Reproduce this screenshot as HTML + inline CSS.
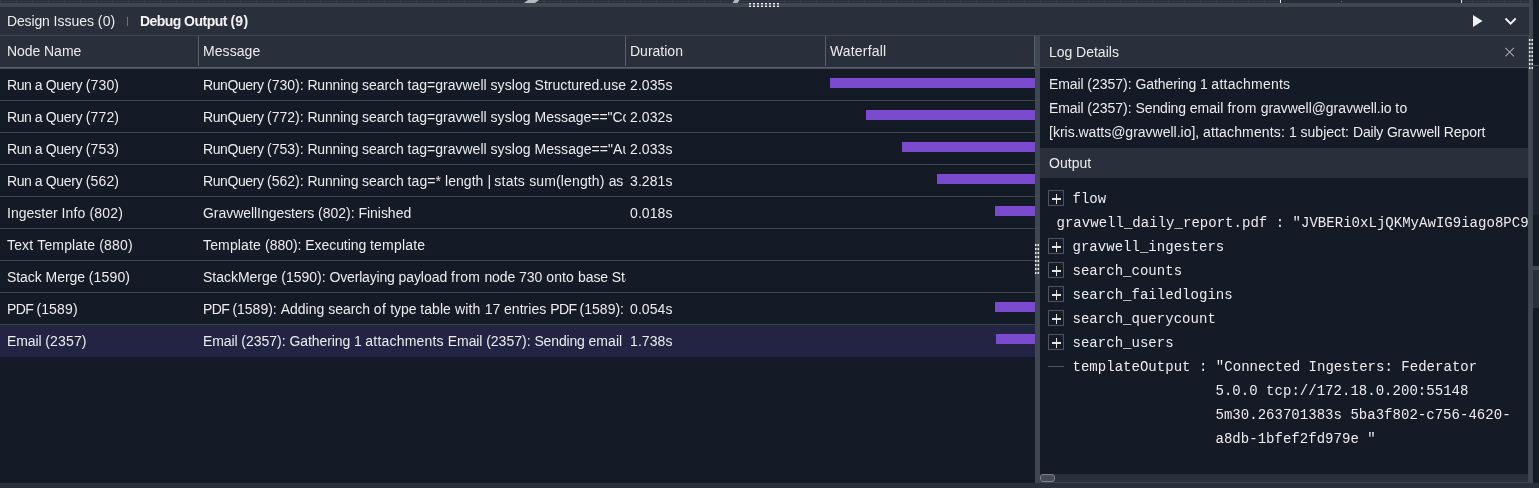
<!DOCTYPE html>
<html lang="en">
<head>
<meta charset="utf-8">
<title>Debug Output</title>
<style>
*{box-sizing:border-box;margin:0;padding:0}
html,body{width:1539px;height:488px;overflow:hidden;background:#141a26}
body{position:relative;font-family:"Liberation Sans",sans-serif;font-size:14px;color:#ececee;line-height:16px}
.abs,.t,.row{position:absolute}
.t{height:16px;white-space:pre}
.b{font-weight:bold}
.m{font-family:"Liberation Mono",monospace;font-size:14px}
#grid{left:0;top:0;width:1529px;height:3px;background-color:#2a313c;
  background-image:linear-gradient(90deg,#373e4a 0,#373e4a 1px,transparent 1px),linear-gradient(180deg,transparent 0,transparent 1px,#343b46 1px,#343b46 2px,transparent 2px);
  background-size:16px 3px,16px 3px}
#topbar{left:0;top:3px;width:1533px;height:4px;background:#3f4751}
#hhandle{left:748px;top:3px;width:32px;height:4px}
#hhandle i{position:absolute;top:0;width:2px;height:4px;background:linear-gradient(180deg,#ececec 0,#ececec 1px,#8d9198 1px,#8d9198 3px,#ececec 3px)}
#tabbar{left:0;top:7px;width:1529px;height:28px;background:#29303b}
#tabs-border{left:0;top:35px;width:1529px;height:1px;background:#3f4751}
#thead{left:0;top:36px;width:1035px;height:31px;background:#29303b}
#thead-border{left:0;top:67px;width:1035px;height:2px;background:linear-gradient(180deg,#59616b 0,#59616b 1px,#454d58 1px)}
.colsep{top:36px;width:1px;height:30px;background:#566069}
.row{left:0;width:1035px;height:32px;border-bottom:1px solid #3b434e}
.row.sel{background:#232443;border-bottom-color:#232443}
.bar{position:absolute;top:9px;height:10px;background:#7b4bcf;right:0}
#vsplit{left:1035px;top:36px;width:5px;height:447px;background:#3f4751}
.vh i{position:absolute;left:0;width:4px;height:2px;background:linear-gradient(90deg,#ececec 0,#ececec 1px,#8d9198 1px,#8d9198 3px,#ececec 3px)}
#rstrip{left:1529px;top:0;width:4px;height:483px;background:#3f4751}
#bottom{left:0;top:483px;width:1539px;height:5px;background:#29303b}
#rp-head{left:1040px;top:36px;width:489px;height:31px;background:#29303b}
#rp-head-border{left:1040px;top:67px;width:489px;height:1px;background:#3f4751}
#out-head{left:1040px;top:148px;width:489px;height:30px;background:#29303b}
.tg{width:16px;height:16px;border:1px solid #4c545e;left:1048px}
.tg:before{content:"";position:absolute;left:2.8px;top:7.45px;width:9.5px;height:1.3px;background:#e6e6e6}
.tg:after{content:"";position:absolute;left:6.9px;top:3.1px;width:1.3px;height:10px;background:#e6e6e6}
#sb-track{left:1040px;top:474px;width:489px;height:8px;background:#29303b}
#sb-line{left:1040px;top:482px;width:489px;height:1px;background:#3f4751}
#sb-thumb{left:1040px;top:474px;width:15px;height:8px;background:#454b57;border:1px solid #7d828b;border-radius:3px}
</style>
</head>
<body>
<div class="abs" id="grid"></div>
<div class="abs" id="topbar"></div>
<div class="abs" id="hhandle"><i style="left:1px"></i><i style="left:5px"></i><i style="left:9px"></i><i style="left:13px"></i><i style="left:17px"></i><i style="left:21px"></i><i style="left:25px"></i><i style="left:29px"></i></div>
<svg class="abs" style="left:520px;top:0" width="230" height="3" viewBox="0 0 230 3"><polygon points="8,0 19,0 15,3 4,3" fill="#b6babf"/><polygon points="214.5,0 219.5,0 217.5,3 212.5,3" fill="#b6babf"/></svg>
<div class="abs" style="left:1281px;top:0;width:180px;height:3px;background:#272e3a"></div>
<div class="abs" style="left:1341px;top:1px;width:1px;height:1px;background:#70767f"></div>
<div class="abs" style="left:1280px;top:0;width:1px;height:3px;background:#e8e8e8"></div>
<div class="abs" style="left:1461px;top:0;width:1px;height:3px;background:#e8e8e8"></div>

<div class="abs" id="tabbar"></div>
<div class="abs" id="tabs-border"></div>
<div class="abs" style="left:127px;top:17px;width:1px;height:9px;background:#6b717b"></div>
<svg class="abs" style="left:1468px;top:11px" width="56" height="20" viewBox="0 0 56 20"><polygon points="5,4 5,16 14.5,10" fill="#f0f0f2"/><polyline points="37.5,7.5 42.6,12.6 47.7,7.5" fill="none" stroke="#f0f0f2" stroke-width="2"/></svg>

<div class="abs" id="thead"></div>
<div class="abs" id="thead-border"></div>
<div class="abs colsep" style="left:198px"></div>
<div class="abs colsep" style="left:625px"></div>
<div class="abs colsep" style="left:825px"></div>
<div class="abs colsep" style="left:1034px"></div>
<div class="row" style="top:69px"><i class="bar" style="left:830px"></i></div>
<div class="row" style="top:101px"><i class="bar" style="left:866px"></i></div>
<div class="row" style="top:133px"><i class="bar" style="left:902px"></i></div>
<div class="row" style="top:165px"><i class="bar" style="left:937px"></i></div>
<div class="row" style="top:197px"><i class="bar" style="left:995px"></i></div>
<div class="row" style="top:229px"></div>
<div class="row" style="top:261px"></div>
<div class="row" style="top:293px"><i class="bar" style="left:995px"></i></div>
<div class="row sel" style="top:325px"><i class="bar" style="left:996px"></i></div>
<div class="abs" id="vsplit"></div>
<div class="abs vh" style="left:1035px;top:244px;width:4px;height:32px"><i style="top:0"></i><i style="top:4px"></i><i style="top:8px"></i><i style="top:12px"></i><i style="top:16px"></i><i style="top:20px"></i><i style="top:24px"></i><i style="top:28px"></i></div>

<div class="abs" id="rp-head"></div>
<div class="abs" id="rp-head-border"></div>
<svg class="abs" style="left:1503px;top:45px" width="14" height="14" viewBox="0 0 14 14"><path d="M2.4 2.8 L10.9 11.3 M10.9 2.8 L2.4 11.3" stroke="#9a9fa7" stroke-width="1.2" fill="none"/></svg>
<div class="abs" id="out-head"></div>

<div class="abs tg" style="top:190px"></div>
<div class="abs tg" style="top:238px"></div>
<div class="abs tg" style="top:262px"></div>
<div class="abs tg" style="top:286px"></div>
<div class="abs tg" style="top:310px"></div>
<div class="abs tg" style="top:334px"></div>
<div class="abs" style="left:1048px;top:366px;width:16px;height:1px;background:#4c545e"></div>
<div class="t" style="left:7px;top:13px"><span style="letter-spacing:-0.136px">Design </span><span style="letter-spacing:-0.008px">Issues </span><span style="letter-spacing:0.168px">(0)</span></div>
<div class="t b" style="left:140px;top:13px;color:#f4f4f5"><span style="letter-spacing:-0.565px">Debug </span><span style="letter-spacing:-0.484px">Output </span><span style="letter-spacing:0.271px">(9)</span></div>
<div class="t" style="left:7px;top:43px"><span style="letter-spacing:-0.086px">Node </span><span style="letter-spacing:0.032px">Name</span></div>
<div class="t" style="left:203px;top:43px"><span style="letter-spacing:0.064px">Message</span></div>
<div class="t" style="left:630px;top:43px">Duration</div>
<div class="t" style="left:830px;top:43px"><span style="letter-spacing:0.165px">Waterfall</span></div>
<div class="t" style="left:7px;top:77px"><span style="letter-spacing:-0.475px">Run </span><span style="letter-spacing:-0.269px">a </span><span style="letter-spacing:-0.350px">Query </span><span style="letter-spacing:0.148px">(730)</span></div>
<div class="t" style="left:203px;top:77px;width:423px;overflow:hidden"><span style="letter-spacing:-0.400px">RunQuery </span><span style="letter-spacing:-0.021px">(730): </span><span style="letter-spacing:-0.190px">Running </span><span style="letter-spacing:-0.045px">search </span><span style="letter-spacing:0.007px">tag=gravwell </span><span style="letter-spacing:0.060px">syslog </span><span style="letter-spacing:0.029px">Structured.user</span></div>
<div class="t" style="left:630px;top:77px"><span style="letter-spacing:0.091px">2.035s</span></div>
<div class="t" style="left:7px;top:109px"><span style="letter-spacing:-0.475px">Run </span><span style="letter-spacing:-0.269px">a </span><span style="letter-spacing:-0.350px">Query </span><span style="letter-spacing:0.148px">(772)</span></div>
<div class="t" style="left:203px;top:109px;width:423px;overflow:hidden"><span style="letter-spacing:-0.400px">RunQuery </span><span style="letter-spacing:-0.021px">(772): </span><span style="letter-spacing:-0.190px">Running </span><span style="letter-spacing:-0.045px">search </span><span style="letter-spacing:0.007px">tag=gravwell </span><span style="letter-spacing:0.060px">syslog </span><span style="letter-spacing:-0.021px">Message=="Connection</span></div>
<div class="t" style="left:630px;top:109px"><span style="letter-spacing:0.091px">2.032s</span></div>
<div class="t" style="left:7px;top:141px"><span style="letter-spacing:-0.475px">Run </span><span style="letter-spacing:-0.269px">a </span><span style="letter-spacing:-0.350px">Query </span><span style="letter-spacing:0.148px">(753)</span></div>
<div class="t" style="left:203px;top:141px;width:423px;overflow:hidden"><span style="letter-spacing:-0.400px">RunQuery </span><span style="letter-spacing:-0.021px">(753): </span><span style="letter-spacing:-0.190px">Running </span><span style="letter-spacing:-0.045px">search </span><span style="letter-spacing:0.007px">tag=gravwell </span><span style="letter-spacing:0.060px">syslog </span><span style="letter-spacing:0.032px">Message=="Authentication</span></div>
<div class="t" style="left:630px;top:141px"><span style="letter-spacing:0.091px">2.033s</span></div>
<div class="t" style="left:7px;top:173px"><span style="letter-spacing:-0.475px">Run </span><span style="letter-spacing:-0.269px">a </span><span style="letter-spacing:-0.350px">Query </span><span style="letter-spacing:0.148px">(562)</span></div>
<div class="t" style="left:203px;top:173px;width:423px;overflow:hidden"><span style="letter-spacing:-0.400px">RunQuery </span><span style="letter-spacing:-0.021px">(562): </span><span style="letter-spacing:-0.190px">Running </span><span style="letter-spacing:-0.045px">search </span><span style="letter-spacing:0.072px">tag=* </span><span style="letter-spacing:0.049px">length </span><span style="letter-spacing:-0.302px">| </span><span style="letter-spacing:0.233px">stats </span><span style="letter-spacing:0.135px">sum(length) </span><span style="letter-spacing:-0.093px">as </span><span style="letter-spacing:0.338px">total</span></div>
<div class="t" style="left:630px;top:173px"><span style="letter-spacing:0.091px">3.281s</span></div>
<div class="t" style="left:7px;top:205px"><span style="letter-spacing:0.004px">Ingester </span><span style="letter-spacing:0.149px">Info </span><span style="letter-spacing:0.148px">(802)</span></div>
<div class="t" style="left:203px;top:205px;width:423px;overflow:hidden"><span style="letter-spacing:-0.048px">GravwellIngesters </span><span style="letter-spacing:-0.021px">(802): </span><span style="letter-spacing:-0.018px">Finished</span></div>
<div class="t" style="left:630px;top:205px"><span style="letter-spacing:0.091px">0.018s</span></div>
<div class="t" style="left:7px;top:237px"><span style="letter-spacing:0.134px">Text </span><span style="letter-spacing:0.146px">Template </span><span style="letter-spacing:0.148px">(880)</span></div>
<div class="t" style="left:203px;top:237px;width:423px;overflow:hidden"><span style="letter-spacing:0.146px">Template </span><span style="letter-spacing:-0.021px">(880): </span><span style="letter-spacing:-0.080px">Executing </span><span style="letter-spacing:0.215px">template</span></div>
<div class="t" style="left:7px;top:269px"><span style="letter-spacing:-0.054px">Stack </span><span style="letter-spacing:-0.060px">Merge </span><span style="letter-spacing:0.143px">(1590)</span></div>
<div class="t" style="left:203px;top:269px;width:423px;overflow:hidden"><span style="letter-spacing:-0.026px">StackMerge </span>(1590): <span style="letter-spacing:-0.181px">Overlaying </span><span style="letter-spacing:-0.041px">payload </span><span style="letter-spacing:0.294px">from </span><span style="letter-spacing:-0.074px">node </span><span style="letter-spacing:-0.012px">730 </span><span style="letter-spacing:0.124px">onto </span><span style="letter-spacing:-0.100px">base </span><span style="letter-spacing:0.012px">StackMerge</span></div>
<div class="t" style="left:7px;top:301px"><span style="letter-spacing:-0.632px">PDF </span><span style="letter-spacing:0.143px">(1589)</span></div>
<div class="t" style="left:203px;top:301px;width:423px;overflow:hidden"><span style="letter-spacing:-0.632px">PDF </span>(1589): <span style="letter-spacing:0.018px">Adding </span><span style="letter-spacing:-0.045px">search </span><span style="letter-spacing:0.277px">of </span><span style="letter-spacing:-0.051px">type </span><span style="letter-spacing:0.044px">table </span><span style="letter-spacing:0.207px">with </span><span style="letter-spacing:-0.055px">17 </span><span style="letter-spacing:0.038px">entries </span><span style="letter-spacing:-0.632px">PDF </span>(1589): <span style="letter-spacing:0.088px">Adding</span></div>
<div class="t" style="left:630px;top:301px"><span style="letter-spacing:0.091px">0.054s</span></div>
<div class="t" style="left:7px;top:333px"><span style="letter-spacing:-0.099px">Email </span><span style="letter-spacing:0.143px">(2357)</span></div>
<div class="t" style="left:203px;top:333px;width:423px;overflow:hidden"><span style="letter-spacing:-0.099px">Email </span>(2357): <span style="letter-spacing:-0.100px">Gathering </span><span style="letter-spacing:-0.142px">1 </span><span style="letter-spacing:0.197px">attachments </span><span style="letter-spacing:-0.099px">Email </span>(2357): <span style="letter-spacing:-0.149px">Sending </span><span style="letter-spacing:0.070px">email </span><span style="letter-spacing:0.468px">from</span></div>
<div class="t" style="left:630px;top:333px"><span style="letter-spacing:0.091px">1.738s</span></div>
<div class="t" style="left:1049px;top:44px"><span style="letter-spacing:-0.067px">Log </span><span style="letter-spacing:0.034px">Details</span></div>
<div class="t" style="left:1049px;top:76px"><span style="letter-spacing:-0.099px">Email </span>(2357): <span style="letter-spacing:-0.100px">Gathering </span><span style="letter-spacing:-0.142px">1 </span><span style="letter-spacing:0.251px">attachments</span></div>
<div class="t" style="left:1049px;top:100px"><span style="letter-spacing:-0.099px">Email </span>(2357): <span style="letter-spacing:-0.149px">Sending </span><span style="letter-spacing:0.070px">email </span><span style="letter-spacing:0.294px">from </span><span style="letter-spacing:-0.053px">gravwell@gravwell.io </span><span style="letter-spacing:0.404px">to</span></div>
<div class="t" style="left:1049px;top:124px"><span style="letter-spacing:-0.007px">[kris.watts@gravwell.io], </span><span style="letter-spacing:0.144px">attachments: </span><span style="letter-spacing:-0.142px">1 </span><span style="letter-spacing:0.050px">subject: </span><span style="letter-spacing:-0.191px">Daily </span><span style="letter-spacing:-0.174px">Gravwell </span><span style="letter-spacing:-0.045px">Report</span></div>
<div class="t" style="left:1049px;top:155px"><span style="letter-spacing:0.042px">Output</span></div>
<div class="t m" style="left:1072.5px;top:191px"><span style="letter-spacing:0.029px">flow</span></div>
<div class="t m" style="left:1056.5px;top:215px;width:471.5px;overflow:hidden"><span style="letter-spacing:0.029px">gravwell_daily_report.pdf </span><span style="letter-spacing:0.029px">: </span><span style="letter-spacing:0.029px">"JVBERi0xLjQKMyAwIG9iago8PC9</span></div>
<div class="t m" style="left:1072.5px;top:239px"><span style="letter-spacing:0.029px">gravwell_ingesters</span></div>
<div class="t m" style="left:1072.5px;top:263px"><span style="letter-spacing:0.029px">search_counts</span></div>
<div class="t m" style="left:1072.5px;top:287px"><span style="letter-spacing:0.029px">search_failedlogins</span></div>
<div class="t m" style="left:1072.5px;top:311px"><span style="letter-spacing:0.029px">search_querycount</span></div>
<div class="t m" style="left:1072.5px;top:335px"><span style="letter-spacing:0.029px">search_users</span></div>
<div class="t m" style="left:1072.5px;top:359px"><span style="letter-spacing:0.029px">templateOutput </span><span style="letter-spacing:0.029px">: </span><span style="letter-spacing:0.029px">"Connected </span><span style="letter-spacing:0.029px">Ingesters: </span><span style="letter-spacing:0.029px">Federator</span></div>
<div class="t m" style="left:1215.5px;top:383px"><span style="letter-spacing:0.029px">5.0.0 </span><span style="letter-spacing:0.029px">tcp://172.18.0.200:55148</span></div>
<div class="t m" style="left:1215.5px;top:407px"><span style="letter-spacing:0.029px">5m30.263701383s </span><span style="letter-spacing:0.029px">5ba3f802-c756-4620-</span></div>
<div class="t m" style="left:1215.5px;top:431px"><span style="letter-spacing:0.029px">a8db-1bfef2fd979e </span><span style="letter-spacing:0.029px">"</span></div>
<div class="abs" id="sb-track"></div>
<div class="abs" id="sb-line"></div>
<div class="abs" id="sb-thumb"></div>
<div class="abs" id="rstrip"></div>
<div class="abs" style="left:1528px;top:36px;width:1px;height:447px;background:#3c444e"></div>
<div class="abs vh" style="left:1529px;top:39px;width:4px;height:30px"><i style="top:0"></i><i style="top:4px"></i><i style="top:8px"></i><i style="top:12px"></i><i style="top:16px"></i><i style="top:20px"></i><i style="top:24px"></i><i style="top:28px"></i></div>
<div class="abs" style="left:1533px;top:65px;width:6px;height:1px;background:#4a525c"></div>
<div class="abs" style="left:1533px;top:66px;width:6px;height:149px;background:#1c222e"></div>
<div class="abs" style="left:1533px;top:266px;width:6px;height:4px;background:#3f4751"></div>
<div class="abs" style="left:1533px;top:270px;width:6px;height:38px;background:#29303b"></div>
<div class="abs" id="bottom"></div>
</body>
</html>
